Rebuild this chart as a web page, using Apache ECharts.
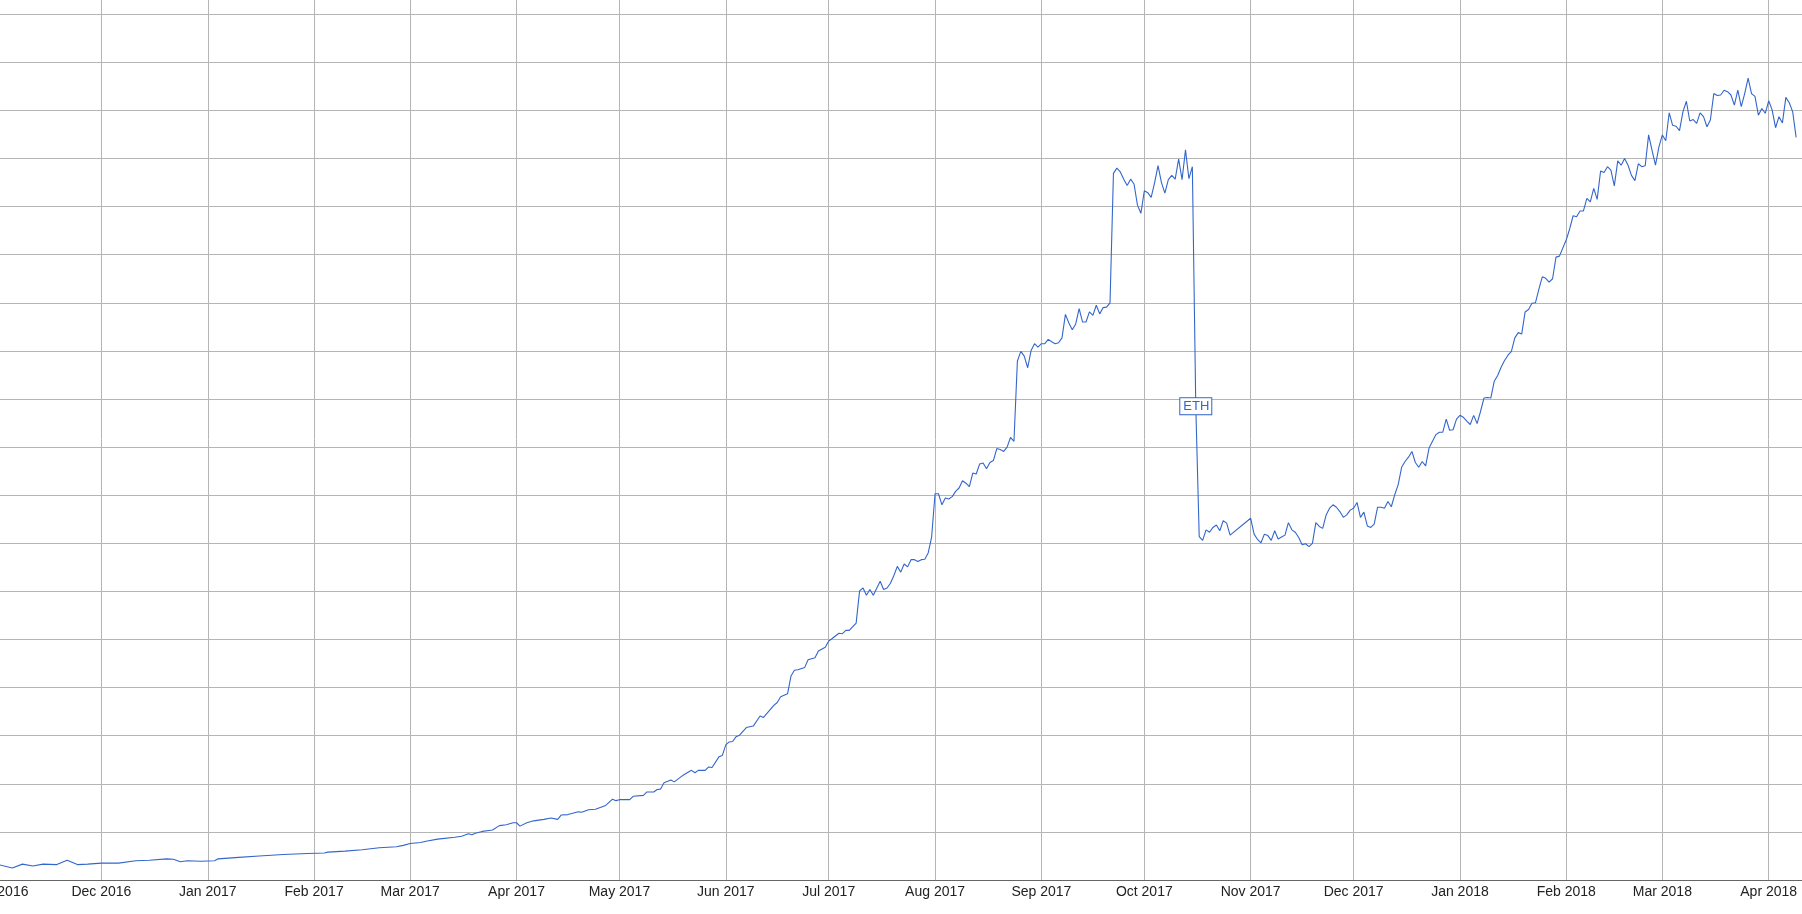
<!DOCTYPE html>
<html>
<head>
<meta charset="utf-8">
<script src="https://cdn.jsdelivr.net/npm/echarts@6.0.0/dist/echarts.min.js"></script>
<style>
html,body{margin:0;padding:0;background:#ffffff;}
#chart{width:1802px;height:914px;}
</style>
</head>
<body>
<div id="chart"></div>
<script>
// ---- data ----
const dates = [
'2016-11-01','2016-11-05','2016-11-08','2016-11-11','2016-11-14','2016-11-18','2016-11-21','2016-11-24','2016-11-27',
'2016-12-01','2016-12-06','2016-12-11','2016-12-15','2016-12-20','2016-12-22','2016-12-24','2016-12-26','2016-12-30',
'2017-01-03','2017-01-04','2017-01-10','2017-01-16','2017-01-23','2017-01-30',
'2017-02-04','2017-02-05','2017-02-10','2017-02-15','2017-02-20','2017-02-25','2017-02-27',
'2017-03-01','2017-03-04','2017-03-06','2017-03-09','2017-03-14','2017-03-16','2017-03-18','2017-03-19','2017-03-20','2017-03-22','2017-03-24','2017-03-25','2017-03-27','2017-03-29','2017-03-31',
'2017-04-01','2017-04-02','2017-04-04','2017-04-06','2017-04-09','2017-04-11','2017-04-13','2017-04-14','2017-04-16','2017-04-19','2017-04-20','2017-04-22','2017-04-24','2017-04-27','2017-04-29','2017-04-30',
'2017-05-01','2017-05-02','2017-05-04','2017-05-05','2017-05-08','2017-05-09','2017-05-11','2017-05-12','2017-05-13','2017-05-14','2017-05-16','2017-05-17','2017-05-19','2017-05-20','2017-05-22','2017-05-23','2017-05-24','2017-05-26','2017-05-27','2017-05-28','2017-05-30','2017-05-31',
'2017-06-01','2017-06-02','2017-06-03','2017-06-04','2017-06-05','2017-06-07','2017-06-09','2017-06-11','2017-06-12','2017-06-15','2017-06-16','2017-06-17','2017-06-19','2017-06-20','2017-06-21','2017-06-22','2017-06-24','2017-06-25','2017-06-27','2017-06-28','2017-06-30',
'2017-07-01','2017-07-02','2017-07-04','2017-07-05','2017-07-06','2017-07-07','2017-07-09','2017-07-10','2017-07-11','2017-07-12','2017-07-13','2017-07-14','2017-07-16','2017-07-17','2017-07-18','2017-07-19','2017-07-20','2017-07-21','2017-07-22','2017-07-23','2017-07-24','2017-07-25','2017-07-26','2017-07-27','2017-07-28','2017-07-29','2017-07-30','2017-07-31',
'2017-08-01','2017-08-02','2017-08-03','2017-08-04','2017-08-05','2017-08-06','2017-08-07','2017-08-08','2017-08-09','2017-08-10','2017-08-11','2017-08-12','2017-08-13','2017-08-14','2017-08-15','2017-08-16','2017-08-17','2017-08-18','2017-08-19','2017-08-20','2017-08-21','2017-08-22','2017-08-23','2017-08-24','2017-08-25','2017-08-26','2017-08-27','2017-08-28','2017-08-29','2017-08-30','2017-08-31',
'2017-09-01','2017-09-02','2017-09-03','2017-09-04','2017-09-05','2017-09-06','2017-09-07','2017-09-08','2017-09-09','2017-09-10','2017-09-11','2017-09-12','2017-09-13','2017-09-14','2017-09-15','2017-09-16','2017-09-17','2017-09-18','2017-09-19','2017-09-20','2017-09-21','2017-09-22','2017-09-23','2017-09-24','2017-09-25','2017-09-26','2017-09-27','2017-09-28','2017-09-29','2017-09-30',
'2017-10-01','2017-10-02','2017-10-03','2017-10-04','2017-10-05','2017-10-06','2017-10-07','2017-10-08','2017-10-09','2017-10-10','2017-10-11','2017-10-12','2017-10-13','2017-10-14','2017-10-15','2017-10-16','2017-10-17','2017-10-18','2017-10-19','2017-10-20','2017-10-21','2017-10-22','2017-10-23','2017-10-24','2017-10-25','2017-10-26',
'2017-11-01','2017-11-02','2017-11-03','2017-11-04','2017-11-05','2017-11-06','2017-11-07','2017-11-08','2017-11-09','2017-11-10','2017-11-11','2017-11-12','2017-11-13','2017-11-14','2017-11-15','2017-11-16','2017-11-17','2017-11-18','2017-11-19','2017-11-20','2017-11-21','2017-11-22','2017-11-23','2017-11-24','2017-11-25','2017-11-26','2017-11-27','2017-11-28','2017-11-29','2017-11-30',
'2017-12-01','2017-12-02','2017-12-03','2017-12-04','2017-12-05','2017-12-06','2017-12-07','2017-12-08','2017-12-09','2017-12-10','2017-12-11','2017-12-12','2017-12-13','2017-12-14','2017-12-15','2017-12-16','2017-12-17','2017-12-18','2017-12-19','2017-12-20','2017-12-21','2017-12-22','2017-12-23','2017-12-24','2017-12-25','2017-12-26','2017-12-27','2017-12-28','2017-12-29','2017-12-30','2017-12-31',
'2018-01-01','2018-01-02','2018-01-03','2018-01-04','2018-01-05','2018-01-06','2018-01-07','2018-01-08','2018-01-09','2018-01-10','2018-01-11','2018-01-12','2018-01-13','2018-01-14','2018-01-15','2018-01-16','2018-01-17','2018-01-18','2018-01-19','2018-01-20','2018-01-21','2018-01-22','2018-01-23','2018-01-24','2018-01-25','2018-01-26','2018-01-27','2018-01-28','2018-01-29','2018-01-30',
'2018-02-01','2018-02-02','2018-02-03','2018-02-04','2018-02-05','2018-02-06','2018-02-07','2018-02-08','2018-02-09','2018-02-10','2018-02-11','2018-02-12','2018-02-13','2018-02-14','2018-02-15','2018-02-16','2018-02-17','2018-02-18','2018-02-19','2018-02-20','2018-02-21','2018-02-22','2018-02-23','2018-02-24','2018-02-25','2018-02-26','2018-02-27','2018-02-28',
'2018-03-01','2018-03-02','2018-03-03','2018-03-04','2018-03-05','2018-03-06','2018-03-07','2018-03-08','2018-03-09','2018-03-10','2018-03-11','2018-03-12','2018-03-13','2018-03-14','2018-03-15','2018-03-16','2018-03-17','2018-03-18','2018-03-19','2018-03-20','2018-03-21','2018-03-22','2018-03-23','2018-03-24','2018-03-25','2018-03-26','2018-03-27','2018-03-28','2018-03-29','2018-03-30','2018-03-31',
'2018-04-01','2018-04-02','2018-04-03','2018-04-04','2018-04-05','2018-04-06','2018-04-07','2018-04-08','2018-04-09'
];
const values = [
3.2,2.5,3.3,2.9,3.3,3.2,4.1,3.2,3.3,
3.5,3.5,4.0,4.1,4.4,4.3,3.8,4.0,3.9,
4.0,4.4,4.7,5.0,5.3,5.5,
5.6,5.8,6.0,6.3,6.7,6.9,7.2,
7.6,7.8,8.1,8.5,8.9,9.1,9.6,9.4,9.7,10.1,10.3,10.4,11.3,11.5,11.9,
11.9,11.2,11.9,12.3,12.6,12.9,12.6,13.5,13.6,14.2,14.1,14.6,14.7,15.5,16.8,16.5,
16.7,16.7,16.7,17.4,17.6,18.3,18.3,18.8,18.9,20.2,20.8,20.4,21.5,22.0,22.8,22.3,22.8,22.8,23.5,23.4,25.6,25.9,
28.1,28.7,28.8,29.8,30.1,31.7,32.0,34.1,33.8,36.3,36.9,38.1,38.7,42.4,43.6,43.7,44.2,45.8,46.2,47.6,48.4,
49.7,50.2,51.3,51.2,51.9,51.9,53.4,60.1,60.7,59.2,60.4,59.2,62.1,60.4,60.7,61.7,63.3,65.2,64.0,65.7,65.1,66.6,66.6,66.2,66.6,66.7,68.0,71.3,
80.3,80.3,78.0,79.4,79.2,79.7,80.8,81.5,83.0,82.5,81.8,84.6,84.4,86.5,86.7,85.5,86.8,87.2,89.7,89.5,89.1,90.0,92.0,91.2,107.9,109.9,108.9,106.5,110.1,111.5,110.8,
111.5,111.5,112.4,111.9,111.5,111.7,112.7,117.6,115.8,114.4,115.6,118.8,116.0,116.0,118.1,117.4,119.5,117.7,119.0,119.1,120.0,146.9,148.0,147.2,145.7,144.4,145.7,144.7,140.3,138.6,
143.3,142.9,141.9,145.0,148.5,145.0,142.8,145.6,146.5,145.7,149.9,145.6,151.8,145.8,148.3,98.5,71.4,70.6,72.8,72.3,73.3,73.8,72.6,74.7,74.2,71.7,
75.2,71.9,70.8,70.1,71.9,71.6,70.6,72.6,70.9,71.3,71.7,74.3,72.8,72.3,71.2,69.7,69.9,69.3,70.0,74.3,73.5,73.1,75.9,77.3,78.0,77.5,76.6,75.4,75.9,76.9,
77.3,78.5,75.4,76.5,73.6,73.3,74.0,77.5,77.5,77.3,78.7,77.6,80.1,82.2,85.8,87.0,87.9,89.1,86.8,85.8,87.0,86.1,89.8,91.2,92.6,93.1,93.1,95.8,93.5,93.6,95.8,
96.6,96.2,95.4,94.7,96.6,94.9,97.4,100.2,100.3,100.2,103.7,104.9,106.6,108.0,109.1,109.9,112.7,113.8,113.5,118.1,118.6,119.9,120.0,122.8,125.4,125.1,124.3,125.0,129.5,129.7,
133.1,135.4,138.1,137.9,139.1,139.1,141.7,141.0,143.8,141.5,147.4,147.1,148.3,147.6,144.3,149.5,148.6,150.0,148.6,146.5,145.4,148.9,148.3,148.5,154.9,151.7,148.6,152.4,
154.9,153.7,159.5,156.9,156.7,155.8,159.7,161.9,157.8,158.1,157.3,159.5,158.7,156.6,158.0,163.5,163.1,163.2,164.2,163.9,163.2,161.1,164.2,160.8,163.5,166.7,163.5,162.9,159.0,160.4,159.4,
162.0,160.1,156.4,158.7,157.4,162.7,161.6,159.7,154.4
];
const tickDates = ['2016-11-01','2016-12-01','2017-01-01','2017-02-01','2017-03-01','2017-04-01','2017-05-01','2017-06-01','2017-07-01','2017-08-01','2017-09-01','2017-10-01','2017-11-01','2017-12-01','2018-01-01','2018-02-01','2018-03-01','2018-04-01'];
const tickLabels = ['Nov 2016','Dec 2016','Jan 2017','Feb 2017','Mar 2017','Apr 2017','May 2017','Jun 2017','Jul 2017','Aug 2017','Sep 2017','Oct 2017','Nov 2017','Dec 2017','Jan 2018','Feb 2018','Mar 2018','Apr 2018'];
const annotationDates = ['2017-10-16'];
const annotationTexts = ['ETH'];
const axisStart = '2016-11-01';
const axisEnd = '2018-04-11';

// ---- chart ----
function toTime(s){ const p = s.split('-').map(Number); return Date.UTC(p[0], p[1]-1, p[2]); }
const tickTimes = tickDates.map(toTime);
const seriesData = dates.map((d, i) => [toTime(d), values[i]]);
const markData = annotationDates.map((d, i) => ({
  coord: [toTime(d), values[dates.indexOf(d)]],
  value: annotationTexts[i]
}));

const FONT = "'Liberation Sans', Arial, sans-serif";
const GRID_COLOR = '#b5b5b5';
const chart = echarts.init(document.getElementById('chart'), null, {renderer: 'canvas'});
chart.setOption({
  animation: false,
  backgroundColor: '#ffffff',
  grid: {left: -1.5, right: -1, top: -33.9, bottom: 34, containLabel: false, outerBoundsMode: 'none'},
  xAxis: {
    type: 'value',
    min: toTime(axisStart),
    max: toTime(axisEnd),
    axisLine: {show: true, onZero: false, lineStyle: {color: '#666666', width: 1}},
    axisTick: {show: false, customValues: tickTimes},
    axisLabel: {
      customValues: tickTimes,
      formatter: function (v) { const i = tickTimes.indexOf(v); return i >= 0 ? tickLabels[i] : ''; },
      color: '#222222', fontSize: 14, fontFamily: FONT, margin: 5,
      hideOverlap: false, showMinLabel: true, showMaxLabel: true
    },
    splitLine: {show: true, lineStyle: {color: GRID_COLOR, width: 1}}
  },
  yAxis: {
    type: 'value', min: 0, max: 190, interval: 10,
    axisLabel: {show: false}, axisLine: {show: false}, axisTick: {show: false},
    splitLine: {show: true, lineStyle: {color: GRID_COLOR, width: 1}}
  },
  series: [{
    type: 'line',
    data: seriesData,
    symbol: 'none',
    showSymbol: false,
    silent: true,
    lineStyle: {color: '#3366cc', width: 1.1},
    itemStyle: {color: '#3366cc'},
    z: 3,
    markPoint: {
      silent: true,
      symbol: 'rect',
      symbolSize: 1,
      itemStyle: {color: 'rgba(0,0,0,0)'},
      label: {
        show: true, position: 'inside',
        formatter: function (p) { return p.value; },
        color: '#3366cc', fontSize: 13, fontFamily: FONT, lineHeight: 13,
        backgroundColor: '#ffffff', borderColor: '#3366cc', borderWidth: 1,
        padding: [2, 2, 1, 3]
      },
      data: markData
    }
  }]
});
</script>
</body>
</html>
